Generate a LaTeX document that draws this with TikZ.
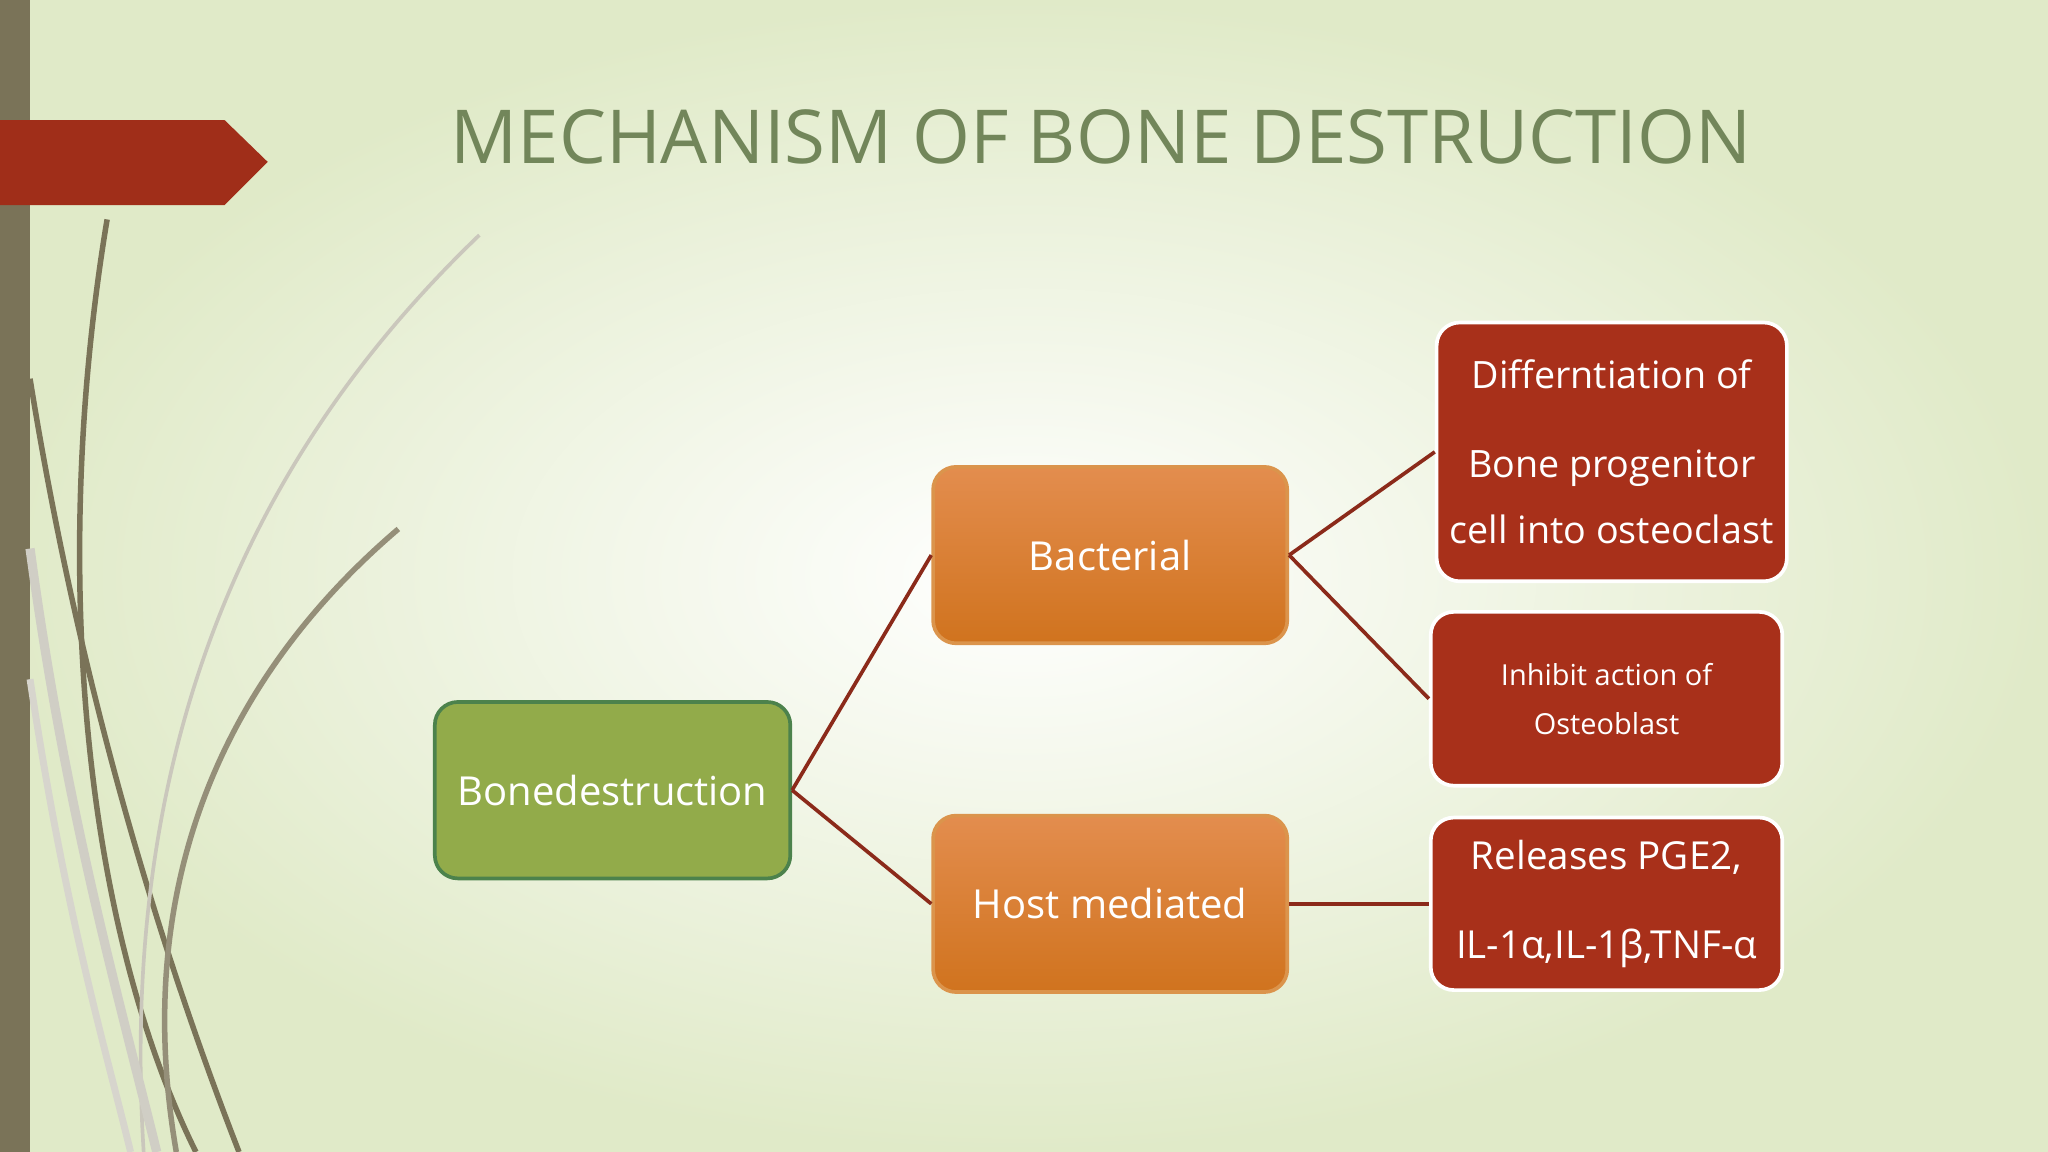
\documentclass[tikz,border=0pt]{standalone}
\usepackage{fontspec}
\setmainfont{Open Sans}
\begin{document}
\begin{tikzpicture}[x=0.01cm,y=-0.01cm,
 box/.style={draw,rounded corners=5pt,line width=0.8pt,text=white,align=center,inner sep=0pt},
 orb/.style={box,draw=orange!80!black!70,top color=or1,bottom color=or2,minimum width=2.71cm,minimum height=1.35cm,fs},
 red/.style={box,draw=white,fill=rd},
 con/.style={draw=ln,line width=0.8pt},
 fs/.style={font=\fontsize{8.7}{10.5}\selectfont}]
\definecolor{gr}{HTML}{92AB4A}\definecolor{or1}{HTML}{E38D4E}\definecolor{or2}{HTML}{D0731E}
\definecolor{rd}{HTML}{A8301A}\definecolor{ln}{HTML}{8B2A1A}\definecolor{ol}{HTML}{7A7358}
\definecolor{bgc}{HTML}{E0EAC8}\definecolor{tt}{HTML}{72865A}
\useasboundingbox (0,0) rectangle (1568,882);
\shade[inner color=white,outer color=bgc] (0,0) rectangle (1568,882);
\fill[ol] (0,0) rectangle (23,882);
\fill[rd!95!black] (0,92) -- (172,92) -- (205,124) -- (172,157) -- (0,157) -- cycle;
% decorative curves
\draw[ol,line width=1.2pt] (82,168) .. controls (40,420) and (60,700) .. (150,882);
\draw[ol,line width=1.2pt] (23,290) .. controls (60,520) and (120,720) .. (183,882);
\draw[ol!80,line width=1.2pt] (305,405) .. controls (170,520) and (100,680) .. (135,882);
\draw[ol!40,line width=0.8pt] (367,180) .. controls (200,340) and (90,560) .. (110,882);
\draw[ol!35,line width=2pt] (23,420) .. controls (50,620) and (90,760) .. (120,882);
\draw[ol!30,line width=1.5pt] (23,520) .. controls (50,700) and (80,800) .. (100,882);
\node[text=tt,font=\fontsize{16.2}{19}\selectfont] (title) at (843,105) {MECHANISM OF BONE DESTRUCTION};
\node[box,draw=green!30!black!70,fill=gr,minimum width=2.72cm,minimum height=1.35cm,fs] (bd) at (469,605) {Bonedestruction};
\node[orb] (bac) at (850,425) {Bacterial};
\node[orb] (host) at (850,692) {Host mediated};
\node[red,minimum width=2.68cm,minimum height=1.98cm,font=\fontsize{8.2}{10}\selectfont] (dif) at (1234,346) {Differntiation of\\[0.33cm]Bone progenitor\\[0.15cm]cell into osteoclast};
\node[red,minimum width=2.69cm,minimum height=1.33cm,font=\fontsize{6.3}{7.6}\selectfont] (inh) at (1230,535) {Inhibit action of\\[0.11cm]Osteoblast};
\node[red,minimum width=2.69cm,minimum height=1.32cm,font=\fontsize{8.4}{10.5}\selectfont] (rel) at (1230,692) {Releases PGE2,\\[0.31cm]IL-1α,IL-1β,TNF-α};
\draw[con] (bd.east) -- (bac.west);
\draw[con] (bd.east) -- (host.west);
\draw[con] (bac.east) -- (dif.west);
\draw[con] (bac.east) -- (inh.west);
\draw[con] (host.east) -- (rel.west);
\end{tikzpicture}
\end{document}
